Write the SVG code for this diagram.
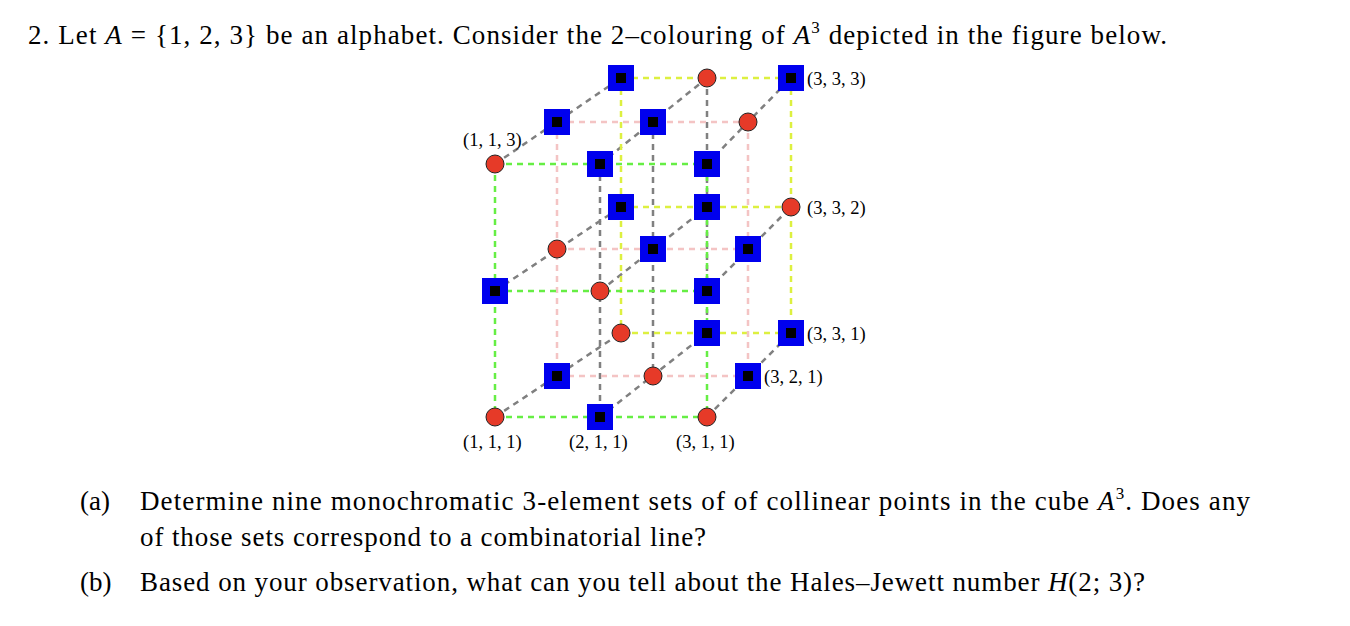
<svg xmlns="http://www.w3.org/2000/svg" width="1350" height="626" viewBox="0 0 1350 626">
<style>
.t{font-family:"Liberation Serif",serif;font-size:27px;fill:#000}
.l{font-family:"Liberation Serif",serif;font-size:18.5px;fill:#000}
.i{font-style:italic}
line{stroke-width:2.5;stroke-dasharray:6 5;fill:none}
.g{stroke:#66ee44}.p{stroke:#f4c4c4}.y{stroke:#ddf040}.k{stroke:#808080}
.r{fill:#e63a28;stroke:#222;stroke-width:1}
.b{fill:#0000ee}.bi{fill:#000}
</style>
<rect width="1350" height="626" fill="#fff"/>
<text class="t" x="28" y="44" textLength="1139" lengthAdjust="spacing">2. Let <tspan class="i">A</tspan> = {1, 2, 3} be an alphabet. Consider the 2–colouring of <tspan class="i">A</tspan><tspan font-size="17" dy="-11">3</tspan><tspan dy="11"> depicted in the figure below.</tspan></text>
<g id="connectors">
<line class="k" x1="495" y1="417" x2="621" y2="333"/><line class="k" x1="600" y1="417" x2="707" y2="333"/><line class="k" x1="707" y1="417" x2="791" y2="333"/>
<line class="k" x1="495" y1="291" x2="621" y2="207"/><line class="k" x1="600" y1="291" x2="707" y2="207"/><line class="k" x1="707" y1="291" x2="791" y2="207"/>
<line class="k" x1="495" y1="164" x2="621" y2="78"/><line class="k" x1="600" y1="164" x2="707" y2="78"/><line class="k" x1="707" y1="164" x2="791" y2="78"/>
<line class="k" x1="600" y1="164" x2="600" y2="417"/><line class="k" x1="653" y1="122" x2="653" y2="376"/><line class="k" x1="707" y1="78" x2="707" y2="333"/>
<line class="y" x1="621" y1="78" x2="791" y2="78"/><line class="y" x1="621" y1="207" x2="791" y2="207"/><line class="y" x1="621" y1="333" x2="791" y2="333"/>
<line class="y" x1="621" y1="78" x2="621" y2="333"/><line class="y" x1="791" y1="78" x2="791" y2="333"/>
<line class="p" x1="557" y1="122" x2="748" y2="122"/><line class="p" x1="557" y1="249" x2="748" y2="249"/><line class="p" x1="557" y1="376" x2="748" y2="376"/>
<line class="p" x1="557" y1="122" x2="557" y2="376"/><line class="p" x1="748" y1="122" x2="748" y2="376"/>
<line class="g" x1="495" y1="164" x2="707" y2="164"/><line class="g" x1="495" y1="291" x2="707" y2="291"/><line class="g" x1="495" y1="417" x2="707" y2="417"/>
<line class="g" x1="495" y1="164" x2="495" y2="417"/><line class="g" x1="707" y1="164" x2="707" y2="417"/>
</g>
<defs>
<g id="B"><rect class="b" x="-13" y="-13" width="26" height="26"/><rect class="bi" x="-5" y="-5" width="10" height="10"/></g>
<circle id="R" class="r" r="9"/>
</defs>
<g id="n133"><use href="#B" x="621" y="78"/></g>
<g id="n233"><use href="#R" x="707" y="78"/></g>
<g id="n333"><use href="#B" x="791" y="78"/></g>
<g id="n123"><use href="#B" x="557" y="122"/></g>
<g id="n223"><use href="#B" x="653" y="122"/></g>
<g id="n323"><use href="#R" x="748" y="122"/></g>
<g id="n113"><use href="#R" x="495" y="164"/></g>
<g id="n213"><use href="#B" x="600" y="164"/></g>
<g id="n313"><use href="#B" x="707" y="164"/></g>
<g id="n132"><use href="#B" x="621" y="207"/></g>
<g id="n232"><use href="#B" x="707" y="207"/></g>
<g id="n332"><use href="#R" x="791" y="207"/></g>
<g id="n122"><use href="#R" x="557" y="249"/></g>
<g id="n222"><use href="#B" x="653" y="249"/></g>
<g id="n322"><use href="#B" x="748" y="249"/></g>
<g id="n112"><use href="#B" x="495" y="291"/></g>
<g id="n212"><use href="#R" x="600" y="291"/></g>
<g id="n312"><use href="#B" x="707" y="291"/></g>
<g id="n131"><use href="#R" x="621" y="333"/></g>
<g id="n231"><use href="#B" x="707" y="333"/></g>
<g id="n331"><use href="#B" x="791" y="333"/></g>
<g id="n121"><use href="#B" x="557" y="376"/></g>
<g id="n221"><use href="#R" x="653" y="376"/></g>
<g id="n321"><use href="#B" x="748" y="376"/></g>
<g id="n111"><use href="#R" x="495" y="417"/></g>
<g id="n211"><use href="#B" x="600" y="417"/></g>
<g id="n311"><use href="#R" x="707" y="417"/></g>
<g id="labels">
<text class="l" x="463" y="146">(1, 1, 3)</text>
<text class="l" x="807" y="85">(3, 3, 3)</text>
<text class="l" x="807" y="214">(3, 3, 2)</text>
<text class="l" x="807" y="340">(3, 3, 1)</text>
<text class="l" x="764" y="383">(3, 2, 1)</text>
<text class="l" x="463" y="448">(1, 1, 1)</text>
<text class="l" x="569" y="448">(2, 1, 1)</text>
<text class="l" x="676" y="448">(3, 1, 1)</text>
</g>
<text class="t" x="80" y="510">(a)</text>
<text class="t" x="140" y="510" textLength="1110" lengthAdjust="spacing">Determine nine monochromatic 3-element sets of of collinear points in the cube <tspan class="i">A</tspan><tspan font-size="17" dy="-11">3</tspan><tspan dy="11">. Does any</tspan></text>
<text class="t" x="140" y="546" textLength="566" lengthAdjust="spacing">of those sets correspond to a combinatorial line?</text>
<text class="t" x="80" y="591">(b)</text>
<text class="t" x="140" y="591" textLength="1005" lengthAdjust="spacing">Based on your observation, what can you tell about the Hales–Jewett number <tspan class="i">H</tspan>(2; 3)?</text>
</svg>
